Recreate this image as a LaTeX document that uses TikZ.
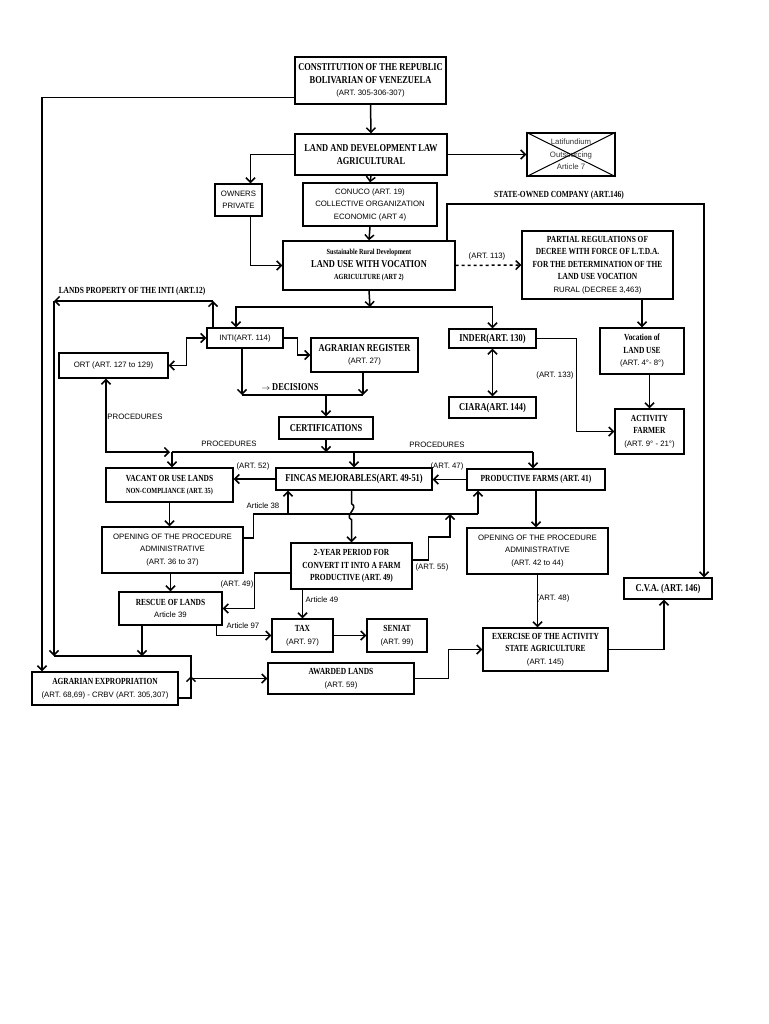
\documentclass[tikz,border=0pt]{standalone}
\usepackage{fontspec}
\setmainfont{Liberation Sans}
\newfontfamily\tnr[FakeStretch=0.8]{Liberation Serif}
\usetikzlibrary{arrows.meta, positioning, calc}

\newcommand{\hdfont}{\tnr\bfseries\fontsize{10.5}{12.5}\selectfont}
\newcommand{\hdmfont}{\tnr\bfseries\fontsize{9.3}{12.5}\selectfont}
\newcommand{\hdsfont}{\tnr\bfseries\fontsize{7.8}{12.5}\selectfont}
\newcommand{\smfont}{\fontsize{7.8}{12.5}\selectfont}

\begin{document}
\begin{tikzpicture}[x=1pt, y=-1pt, line width=1.5pt, >={Straight Barb[length=4.5pt,width=9pt]},
  box/.style={rectangle, draw, line width=1.4pt, align=center, inner sep=1pt, font=\smfont},
  lbl/.style={font=\smfont, inner sep=0pt}]

\useasboundingbox (0,0) rectangle (768,1024);

% boxes
\node[box, minimum width=151pt, minimum height=47pt] (const) at (370.5,80.5) {{\hdfont CONSTITUTION OF THE REPUBLIC}\\{\hdfont BOLIVARIAN OF VENEZUELA}\\(ART. 305-306-307)};
\node[box, minimum width=152pt, minimum height=41pt] (law) at (371,154.5) {{\hdfont LAND AND DEVELOPMENT LAW}\\{\hdfont AGRICULTURAL}};
\node[box, minimum width=88pt, minimum height=43pt, text=black!80] (lati) at (571,154.5) {Latifundium\\Outsourcing\\Article 7};
\node[box, minimum width=47pt, minimum height=32pt] (owners) at (238.5,200) {OWNERS\\PRIVATE};
\node[box, minimum width=134pt, minimum height=43pt] (conuco) at (370,204.5) {CONUCO (ART. 19)\\COLLECTIVE ORGANIZATION\\ECONOMIC (ART 4)};
\node[box, minimum width=172pt, minimum height=49pt] (landuse) at (369,265.5) {{\hdsfont Sustainable Rural Development}\\{\hdfont LAND USE WITH VOCATION}\\{\hdsfont AGRICULTURE (ART 2)}};
\node[box, minimum width=151pt, minimum height=68pt] (partial) at (597.5,265) {{\hdmfont PARTIAL REGULATIONS OF}\\{\hdmfont DECREE WITH FORCE OF L.T.D.A.}\\{\hdmfont FOR THE DETERMINATION OF THE}\\{\hdmfont LAND USE VOCATION}\\RURAL (DECREE 3,463)};
\node[box, minimum width=84pt, minimum height=46pt] (vocation) at (642,351) {{\hdmfont Vocation of}\\{\hdmfont LAND USE}\\(ART. 4°- 8°)};
\node[box, minimum width=69pt, minimum height=45pt] (farmer) at (649.5,431.5) {{\hdmfont ACTIVITY}\\{\hdmfont FARMER}\\(ART. 9° - 21°)};
\node[box, minimum width=76pt, minimum height=20pt] (inti) at (245,338) {INTI(ART. 114)};
\node[box, minimum width=109pt, minimum height=25pt] (ort) at (113.5,365.5) {ORT (ART. 127 to 129)};
\node[box, minimum width=107pt, minimum height=34pt] (agreg) at (364.5,355) {{\hdfont AGRARIAN REGISTER}\\(ART. 27)};
\node[box, minimum width=94pt, minimum height=22pt] (cert) at (326,428) {\hdfont CERTIFICATIONS};
\node[box, minimum width=87pt, minimum height=19pt] (inder) at (492.5,338.5) {\hdfont INDER(ART. 130)};
\node[box, minimum width=87pt, minimum height=21pt] (ciara) at (492.5,407.5) {\hdfont CIARA(ART. 144)};
\node[box, minimum width=127pt, minimum height=34pt] (vacant) at (169.5,485) {{\hdmfont VACANT OR USE LANDS}\\{\hdsfont NON-COMPLIANCE (ART. 35)}};
\node[box, minimum width=156pt, minimum height=22pt] (fincas) at (354,479) {\hdfont FINCAS MEJORABLES(ART. 49-51)};
\node[box, minimum width=138pt, minimum height=21pt] (prod) at (536,479.5) {\hdmfont PRODUCTIVE FARMS (ART. 41)};
\node[box, minimum width=141pt, minimum height=46pt] (openL) at (172.5,550) {OPENING OF THE PROCEDURE\\ADMINISTRATIVE\\(ART. 36 to 37)};
\node[box, minimum width=141pt, minimum height=46pt] (openR) at (537.5,551) {OPENING OF THE PROCEDURE\\ADMINISTRATIVE\\(ART. 42 to 44)};
\node[box, minimum width=121pt, minimum height=46pt] (twoyr) at (351.5,566) {{\hdmfont 2-YEAR PERIOD FOR}\\{\hdmfont CONVERT IT INTO A FARM}\\{\hdmfont PRODUCTIVE (ART. 49)}};
\node[box, minimum width=103pt, minimum height=33pt] (rescue) at (170.5,608.5) {{\hdmfont RESCUE OF LANDS}\\Article 39};
\node[box, minimum width=61pt, minimum height=33pt] (tax) at (302.5,635.5) {{\hdmfont TAX}\\(ART. 97)};
\node[box, minimum width=60pt, minimum height=33pt] (seniat) at (397,635.5) {{\hdmfont SENIAT}\\(ART. 99)};
\node[box, minimum width=88pt, minimum height=21pt] (cva) at (668,588.5) {\hdfont C.V.A. (ART. 146)};
\node[box, minimum width=125pt, minimum height=43pt] (exer) at (545.5,649.5) {{\hdmfont EXERCISE OF THE ACTIVITY}\\{\hdmfont STATE AGRICULTURE}\\(ART. 145)};
\node[box, minimum width=146pt, minimum height=31pt] (awarded) at (341,678.5) {{\hdmfont AWARDED LANDS}\\(ART. 59)};
\node[box, minimum width=146pt, minimum height=33pt] (expro) at (105,688.5) {{\hdmfont AGRARIAN EXPROPRIATION}\\(ART. 68,69) - CRBV (ART. 305,307)};

% labels
\node[lbl] (solbl) at (559,195) {\hdmfont STATE-OWNED COMPANY (ART.146)};
\node[lbl] (lplbl) at (132,291) {\hdmfont LANDS PROPERTY OF THE INTI (ART.12)};
\node[lbl] (a113) at (487,256) {(ART. 113)};
\node[lbl] (a133) at (555,375) {(ART. 133)};
\node[lbl] (proc1) at (135,417) {PROCEDURES};
\node[lbl] (proc2) at (229,444) {PROCEDURES};
\node[lbl] (proc3) at (437,445) {PROCEDURES};
\node[lbl] (decis) at (290,387) {$\rightarrow$ {\hdfont DECISIONS}};
\node[lbl] (a52) at (253,466) {(ART. 52)};
\node[lbl] (a47) at (447,466) {(ART. 47)};
\node[lbl] (art38) at (263,506) {Article 38};
\node[lbl] (a55) at (432,567) {(ART. 55)};
\node[lbl] (a49) at (237,584) {(ART. 49)};
\node[lbl] (art49) at (322,600) {Article 49};
\node[lbl] (art97) at (243,626) {Article 97};
\node[lbl] (a48) at (553,598) {(ART. 48)};

% junctions
\coordinate (split) at (370,307);
\coordinate (lp) at (213,301);
\coordinate (lpl) at (54,301);
\coordinate (dl) at (242,395);
\coordinate (dr) at (363,395);
\coordinate (pl) at (172,452);
\coordinate (pr) at (533,452);
\coordinate (bl) at (288,514);
\coordinate (br) at (478,514);
\coordinate (b55) at (450,514);
\coordinate (jl) at (54,656);
\coordinate (jr) at (191,656);
\coordinate (jb) at (191,676);
\coordinate (so) at (704,204);

% connectors
\draw[->] (const.south) -- (law.north);
\draw[->] ([yshift=-17pt]const.west) -| ([xshift=-63pt]expro.north);
\draw[->] (law.east) -- (lati.west);
\draw[line width=1pt] (lati.north west) -- (lati.south east);
\draw[line width=1pt] (lati.north east) -- (lati.south west);
\draw[->] (law.west) -| ([xshift=12pt]owners.north);
\draw[->] (law.south) -- (conuco.north);
\draw[->] (conuco.south) -- (landuse.north);
\draw[->] ([xshift=12pt]owners.south) |- (landuse.west);
\draw[->] ([xshift=78pt]landuse.north) |- (so) -- (so |- cva.north);
\draw[->, dashed] (landuse.east) -- (partial.west);
\draw[->] (partial.south -| vocation.north) -- (vocation.north);
\draw[->] (vocation.south -| farmer.north) -- (farmer.north);

\draw[->] (landuse.south) -- (split);
\draw[->] (split) -| ([xshift=-9pt]inti.north);
\draw[->] (split) -| (inder.north);
\draw[<->] (inti.west) -- ++(-20,0) |- (ort.east);
\draw[->] (inti.east) -- ++(14,0) |- (agreg.west);
\draw[->] (inti.north -| lp) -- (lp);
\draw[->] (lp) -- (lpl);
\draw[->] (lpl) -- (jl);

\draw[->] (inti.south -| dl) -- (dl);
\draw[->] (agreg.south -| dr) -- (dr);
\draw (dl) -- (dr);
\draw[->] (dl -| cert.north) -- (cert.north);

\draw[<->] (inder.south) -- (ciara.north);
\draw[->] (inder.east) -- ++(40,0) |- (farmer.west);

\draw[->] (cert.south) -- (cert.south |- pl);
\draw (pl) -- (pr);
\draw[->] (pl) -- (pl |- vacant.north);
\draw[->] (fincas.north |- pl) -- (fincas.north);
\draw[->] (pr) -- (pr |- prod.north);
\draw[<->] ([xshift=-7.5pt]ort.south) |- ([xshift=-2pt]pl);

\draw[->] (fincas.west) -- (fincas.west -| vacant.east);
\draw[->] (prod.west) -- (prod.west -| fincas.east);
\draw[->] (vacant.south) -- (vacant.south |- openL.north);
\draw[->] (prod.south) -- (prod.south |- openR.north);

\draw ([yshift=12pt]openL.east) -- ++(10,0) |- (bl);
\draw[->] (bl) -- (bl |- fincas.south);
\draw (bl) -- (br);
\draw[->] (br) -- (br |- prod.south);
\draw[->] ([yshift=6pt]twoyr.east) -- ++(16,0) |- ($(b55)+(0,23)$) -- (b55);
\draw[->] (fincas.south -| twoyr.north) -- ++(0,13) .. controls +(8,4) and +(-8,-4) .. ++(0,16) -- (twoyr.north);

\draw[->] ([yshift=-7pt]twoyr.west) -- ++(-36,0) |- (rescue.east);
\draw[->] (twoyr.south -| tax.north) -- (tax.north);
\draw[->] (openL.south -| rescue.north) -- (rescue.north);
\draw[->] ([xshift=-6pt]rescue.south east) |- (tax.west);
\draw[->] (tax.east) -- (seniat.west);

\draw[->] ([xshift=-28.5pt]rescue.south) -- ([xshift=-28.5pt]rescue.south |- jl);
\draw[line width=2.2pt] (jl) -- (jr) -- (jr |- awarded.west);
\draw[->] ([yshift=-9.5pt]expro.east) -| (jb);
\draw[->] (jr |- awarded.west) -- (awarded.west);

\draw[->] (openR.south) -- (openR.south |- exer.north);
\draw[->] (exer.east) -| ([xshift=-4pt]cva.south);
\draw[->] (awarded.east) -- ++(34,0) |- (exer.west);

\end{tikzpicture}
\end{document}
